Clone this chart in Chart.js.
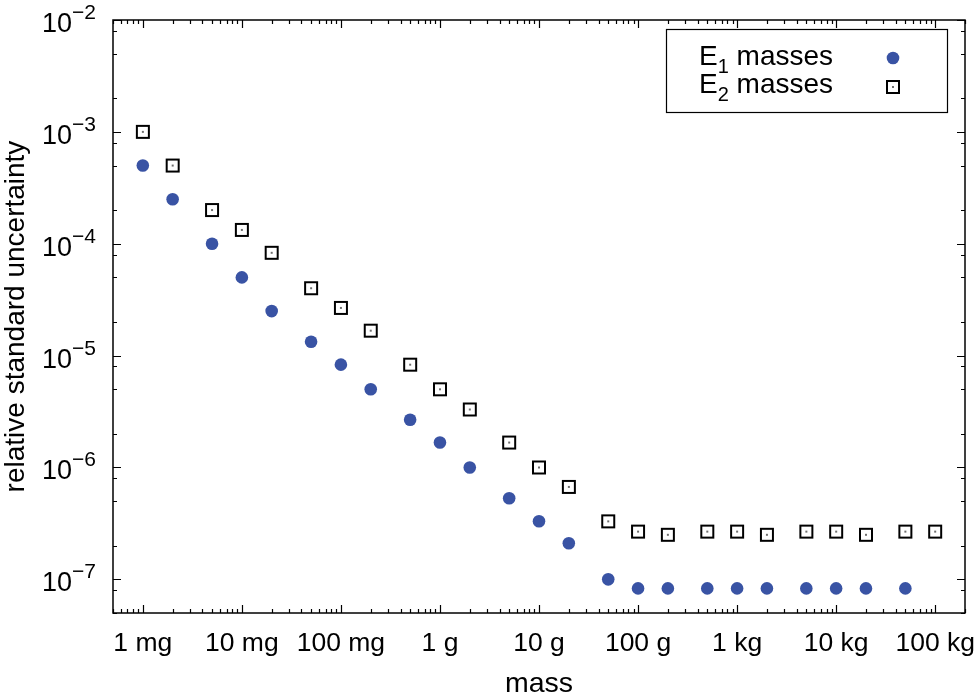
<!DOCTYPE html>
<html>
<head>
<meta charset="utf-8">
<script src="https://cdn.jsdelivr.net/npm/chart.js@4/dist/chart.umd.min.js"></script>
<style>
  html, body { margin: 0; padding: 0; background: #fff; }
  #wrap { width: 979px; height: 697px; }
</style>
</head>
<body>
<div id="wrap"><canvas id="massChart" width="979" height="697"></canvas></div>
<script>
// masses in mg
var massE1 = [1, 2, 5, 10, 20, 50, 100, 200, 500, 1e3, 2e3, 5e3, 1e4, 2e4, 5e4,
              1e5, 2e5, 5e5, 1e6, 2e6, 5e6, 1e7, 2e7, 5e7];
var uncE1 = [5e-4, 2.5e-4, 1e-4, 5e-5, 2.5e-5, 1.33e-5, 8.3e-6, 5e-6, 2.67e-6, 1.67e-6, 1e-6, 5.3e-7, 3.3e-7, 2.1e-7, 1e-7,
             8.3e-8, 8.3e-8, 8.3e-8, 8.3e-8, 8.3e-8, 8.3e-8, 8.3e-8, 8.3e-8, 8.3e-8];
var massE2 = [1, 2, 5, 10, 20, 50, 100, 200, 500, 1e3, 2e3, 5e3, 1e4, 2e4, 5e4,
              1e5, 2e5, 5e5, 1e6, 2e6, 5e6, 1e7, 2e7, 5e7, 1e8];
var uncE2 = [1e-3, 5e-4, 2e-4, 1.33e-4, 8.3e-5, 4e-5, 2.67e-5, 1.67e-5, 8.3e-6, 5e-6, 3.3e-6, 1.67e-6, 1e-6, 6.7e-7, 3.3e-7,
             2.67e-7, 2.5e-7, 2.67e-7, 2.67e-7, 2.5e-7, 2.67e-7, 2.67e-7, 2.5e-7, 2.67e-7, 2.67e-7];

var xTickValues = [1, 10, 100, 1e3, 1e4, 1e5, 1e6, 1e7, 1e8];
var xTickLabels = ['1 mg', '10 mg', '100 mg', '1 g', '10 g', '100 g', '1 kg', '10 kg', '100 kg'];
var yTickExps = [-2, -3, -4, -5, -6, -7];
var yMinorMult = [2, 5, 8];

var blue = 'rgb(57,83,164)';
var FONT = '"Liberation Sans", Arial, Helvetica, sans-serif';

function toPoints(xs, ys) {
    var out = [];
    for (let i = 0; i < xs.length; i++) out.push({ x: xs[i], y: ys[i] });
    return out;
}

// open square with a dot in the middle
var sq = document.createElement('canvas');
sq.width = 18; sq.height = 18;
var sctx = sq.getContext('2d');
sctx.strokeStyle = '#000';
sctx.lineWidth = 2;
sctx.strokeRect(3, 3, 12, 12);
sctx.fillStyle = '#000';
sctx.fillRect(8.25, 8.25, 1.5, 1.5);

var frame = {
    id: 'frame',
    afterDraw: function (chart) {
        var c = chart.ctx, a = chart.chartArea;
        var xs = chart.scales.x, ys = chart.scales.y;
        c.save();
        c.strokeStyle = '#000';
        c.lineWidth = 1.5;
        c.strokeRect(a.left, a.top, a.right - a.left, a.bottom - a.top);

        c.lineWidth = 1.2;
        c.beginPath();
        // x ticks, bottom and top
        for (let d = -1; d <= 8; d++) {
            for (let m = 1; m <= 9; m++) {
                var v = m * Math.pow(10, d);
                if (v < xs.min || v > xs.max) continue;
                var px = Math.round(xs.getPixelForValue(v)) + 0.5;
                var len = (m == 1) ? 8 : 4;
                c.moveTo(px, a.bottom); c.lineTo(px, a.bottom - len);
                c.moveTo(px, a.top); c.lineTo(px, a.top + len);
            }
        }
        // y ticks, left and right
        for (let e = -8; e <= -2; e++) {
            var vals = [1].concat(yMinorMult);
            for (let k = 0; k < vals.length; k++) {
                var v = vals[k] * Math.pow(10, e);
                if (v < ys.min * 0.999 || v > ys.max * 1.001) continue;
                var py = Math.round(ys.getPixelForValue(v)) + 0.5;
                var len = (k == 0) ? 8 : 4;
                c.moveTo(a.left, py); c.lineTo(a.left + len, py);
                c.moveTo(a.right, py); c.lineTo(a.right - len, py);
            }
        }
        c.stroke();

        c.fillStyle = '#000';
        // x tick labels
        c.font = '26.5px ' + FONT;
        c.textAlign = 'center';
        c.textBaseline = 'alphabetic';
        for (let i = 0; i < xTickValues.length; i++) {
            c.fillText(xTickLabels[i], xs.getPixelForValue(xTickValues[i]), 651);
        }
        // y tick labels 10^n
        for (let i = 0; i < yTickExps.length; i++) {
            var py = ys.getPixelForValue(Math.pow(10, yTickExps[i]));
            var sup = '\u2212' + Math.abs(yTickExps[i]);
            c.font = '21px ' + FONT;
            var wSup = c.measureText(sup).width;
            c.font = '27px ' + FONT;
            var wBase = c.measureText('10').width;
            var right = 96;
            c.textAlign = 'left';
            c.fillText('10', right - wSup - wBase, py + 12);
            c.font = '21px ' + FONT;
            c.fillText(sup, right - wSup, py - 1);
        }
        // axis titles
        c.font = '28.5px ' + FONT;
        c.textAlign = 'center';
        c.fillText('mass', (a.left + a.right) / 2, 692);
        c.save();
        c.translate(24, (a.top + a.bottom) / 2);
        c.rotate(-Math.PI / 2);
        c.font = '28px ' + FONT;
        c.fillText('relative standard uncertainty', 0, 0);
        c.restore();

        // legend
        c.fillStyle = '#fff';
        c.fillRect(666, 29, 282, 84);
        c.strokeStyle = '#000';
        c.lineWidth = 1.2;
        c.strokeRect(666.5, 29.5, 281, 83);
        var rows = [['1', 65, 'circle'], ['2', 93, 'square']];
        for (let r = 0; r < rows.length; r++) {
            var x0 = 699, base = rows[r][1];
            c.fillStyle = '#000';
            c.textAlign = 'left';
            c.font = '28px ' + FONT;
            c.fillText('E', x0, base);
            x0 += c.measureText('E').width;
            c.font = '20px ' + FONT;
            c.fillText(rows[r][0], x0, base + 8);
            x0 += c.measureText(rows[r][0]).width;
            c.font = '28px ' + FONT;
            c.fillText(' masses', x0, base);
            if (rows[r][2] == 'circle') {
                c.fillStyle = blue;
                c.beginPath();
                c.arc(893, 58, 6.3, 0, Math.PI * 2);
                c.fill();
            } else {
                c.drawImage(sq, 893 - 9, 87 - 9);
            }
        }
        c.restore();
    }
};

var cfg = {
    type: 'scatter',
    data: {
        datasets: [{
            label: 'E1 masses',
            data: toPoints(massE1, uncE1),
            pointStyle: 'circle',
            pointRadius: 6.3,
            pointBackgroundColor: blue,
            pointBorderWidth: 0,
            borderColor: blue
        }, {
            label: 'E2 masses',
            data: toPoints(massE2, uncE2),
            pointStyle: sq,
            pointRadius: 9
        }]
    },
    options: {
        responsive: false,
        animation: false,
        layout: { padding: { left: 113, right: 14, top: 20, bottom: 84 } },
        plugins: { legend: { display: false }, tooltip: { enabled: false } },
        scales: {
            x: { type: 'logarithmic', min: 0.5, max: 2e8, display: false },
            y: { type: 'logarithmic', min: 5e-8, max: 1e-2, display: false }
        }
    },
    plugins: [frame]
};

window.addEventListener('load', function () {
    var ctx = document.getElementById('massChart').getContext('2d');
    new Chart(ctx, cfg);
}, false);
</script>
</body>
</html>
